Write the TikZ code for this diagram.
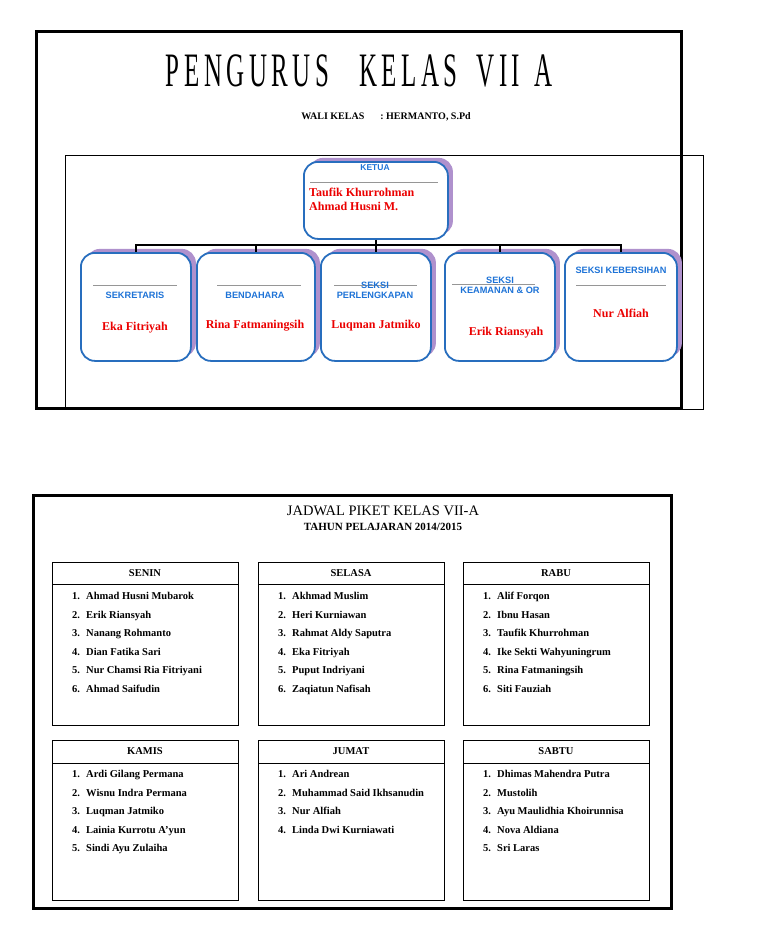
\documentclass[tikz,border=0pt]{standalone}
\usepackage{fontspec}
\setmainfont{Liberation Serif}
\newfontfamily\labfont{Liberation Sans}
\newfontfamily\titlefont[LetterSpace=18]{Liberation Serif}
\usetikzlibrary{shadows}
\definecolor{bborder}{RGB}{40,110,190}
\definecolor{blab}{RGB}{30,115,215}
\definecolor{shad}{RGB}{175,145,205}
\definecolor{rname}{RGB}{235,0,0}
\definecolor{sepgray}{RGB}{150,150,150}
\begin{document}
\begin{tikzpicture}[x=1pt,y=-1pt,
  frame/.style={draw=black, line width=3pt},
  thinframe/.style={draw=black, line width=0.7pt},
  orgbox/.style={draw=bborder, line width=1.8pt, rounded corners=14pt, fill=white,
    drop shadow={shadow xshift=5pt, shadow yshift=4pt, fill=shad, opacity=1},
    anchor=north west, inner sep=0pt},
  lab/.style={text=blab, font=\labfont\bfseries\fontsize{9.2}{10}\selectfont, inner sep=0pt, align=center},
  rn/.style={text=rname, font=\bfseries\fontsize{12}{13}\selectfont, inner sep=0pt},
  sep/.style={draw=sepgray, line width=0.8pt},
  conn/.style={draw=black, line width=1.2pt},
  daybox/.style={draw=black, line width=1.2pt, anchor=north west, inner sep=0pt, minimum width=186pt},
  dayhead/.style={font=\bfseries\fontsize{10.5}{11}\selectfont, inner sep=0pt},
  item/.style={font=\bfseries\fontsize{10.5}{11}\selectfont, inner sep=0pt, anchor=base west}
]
\useasboundingbox (0,0) rectangle (768,932);

% ---------------- top section ----------------
\node[thinframe, anchor=north west, minimum width=638pt, minimum height=254pt, inner sep=0pt] (orgarea) at (65,155) {};
\node[frame, anchor=north west, minimum width=645pt, minimum height=377pt, inner sep=0pt] (topframe) at (35,30) {};

\node[inner sep=0pt] (title) at (359,71) {\scalebox{0.52}[1]{\titlefont\fontsize{48}{48}\selectfont PENGURUS\hspace{37pt} KELAS\hspace{16pt} VII\hspace{6pt} A}};
\node[inner sep=0pt, font=\bfseries\fontsize{10}{11}\selectfont] (wali) at (386,117) {WALI KELAS\hspace{16pt}: HERMANTO, S.Pd};

% ketua
\node[orgbox, minimum width=144pt, minimum height=77pt] (ketua) at (303,161) {};
\node[lab, font=\labfont\bfseries\fontsize{8.5}{9}\selectfont] (ketualab) at (375,168) {KETUA};
\draw[sep] (310,182) -- (438,182);
\node[rn, anchor=west] (ketua1) at (309,192) {Taufik Khurrohman};
\node[rn, anchor=west] (ketua2) at (309,206) {Ahmad Husni M.};

% lower boxes
\node[orgbox, minimum width=110pt, minimum height=108pt] (b1) at (80,252) {};
\node[orgbox, minimum width=118pt, minimum height=108pt] (b2) at (196,252) {};
\node[orgbox, minimum width=110pt, minimum height=108pt] (b3) at (320,252) {};
\node[orgbox, minimum width=110pt, minimum height=108pt] (b4) at (444,252) {};
\node[orgbox, minimum width=112pt, minimum height=108pt] (b5) at (564,252) {};

% connectors
\coordinate (bus) at (375,245);
\draw[conn] (ketua.south) -- (b3.north);
\draw[conn] (b1.north) -- (b1.north |- bus) -- (b5.north |- bus) -- (b5.north);
\draw[conn] (b2.north |- bus) -- (b2.north);
\draw[conn] (b4.north |- bus) -- (b4.north);

% box contents
\draw[sep] (93,285) -- (177,285);
\node[lab] (l1) at (135,295) {SEKRETARIS};
\node[rn] (n1) at (135,328) {Eka Fitriyah};

\draw[sep] (217,285) -- (301,285);
\node[lab] (l2) at (255,295) {BENDAHARA};
\node[rn] (n2) at (255,326) {Rina Fatmaningsih};

\draw[sep] (334,285) -- (417,285);
\node[lab] (l3) at (375,290) {SEKSI\\PERLENGKAPAN};
\node[rn] (n3) at (376,326) {Luqman Jatmiko};

\draw[sep] (452,284) -- (535,284);
\node[lab] (l4) at (500,285) {SEKSI\\KEAMANAN \& OR};
\node[rn] (n4) at (506,333) {Erik Riansyah};

\node[lab] (l5) at (621,270) {SEKSI KEBERSIHAN};
\draw[sep] (576,285) -- (666,285);
\node[rn] (n5) at (621,313) {Nur Alfiah};

% ---------------- bottom section ----------------
\node[frame, anchor=north west, minimum width=638pt, minimum height=413pt, inner sep=0pt] (botframe) at (32,494) {};
\node[inner sep=0pt, font=\fontsize{14.5}{15}\selectfont] (jtitle) at (383,511) {JADWAL PIKET KELAS VII-A};
\node[inner sep=0pt, font=\bfseries\fontsize{11}{12}\selectfont] (jsub) at (383,527) {TAHUN PELAJARAN 2014/2015};

% day boxes row 1
\node[daybox, minimum height=163pt] (senin) at (52,562) {};
\node[daybox, minimum height=163pt] (selasa) at (258,562) {};
\node[daybox, minimum height=163pt] (rabu) at (463,562) {};
\draw[line width=1pt] (52,584) -- (238,584);
\draw[line width=1pt] (258,584) -- (444,584);
\draw[line width=1pt] (463,584) -- (649,584);
\node[dayhead] (hsenin) at (145,573) {SENIN};
\node[dayhead] (hselasa) at (351,573) {SELASA};
\node[dayhead] (hrabu) at (556,573) {RABU};

% day boxes row 2
\node[daybox, minimum height=160pt] (kamis) at (52,740) {};
\node[daybox, minimum height=160pt] (jumat) at (258,740) {};
\node[daybox, minimum height=160pt] (sabtu) at (463,740) {};
\draw[line width=1pt] (52,763) -- (238,763);
\draw[line width=1pt] (258,763) -- (444,763);
\draw[line width=1pt] (463,763) -- (649,763);
\node[dayhead] (hkamis) at (145,751) {KAMIS};
\node[dayhead] (hjumat) at (351,751) {JUMAT};
\node[dayhead] (hsabtu) at (556,751) {SABTU};

\newcommand{\dayitems}[4]{%
  \foreach \nm [count=\i] in {#4} {
    \node[item] (#1-\i) at (#2, #3+18.5*\i-18.5+3.6) {\makebox[14pt][l]{\i.}\nm};
  }}
\dayitems{senin}{72}{596}{Ahmad Husni Mubarok,Erik Riansyah,Nanang Rohmanto,Dian Fatika Sari,Nur Chamsi Ria Fitriyani,Ahmad Saifudin}
\dayitems{selasa}{278}{596}{Akhmad Muslim,Heri Kurniawan,Rahmat Aldy Saputra,Eka Fitriyah,Puput Indriyani,Zaqiatun Nafisah}
\dayitems{rabu}{483}{596}{Alif Forqon,Ibnu Hasan,Taufik Khurrohman,Ike Sekti Wahyuningrum,Rina Fatmaningsih,Siti Fauziah}
\dayitems{kamis}{72}{774}{Ardi Gilang Permana,Wisnu Indra Permana,Luqman Jatmiko,Lainia Kurrotu A'yun,Sindi Ayu Zulaiha}
\dayitems{jumat}{278}{774}{Ari Andrean,Muhammad Said Ikhsanudin,Nur Alfiah,Linda Dwi Kurniawati}
\dayitems{sabtu}{483}{774}{Dhimas Mahendra Putra,Mustolih,Ayu Maulidhia Khoirunnisa,Nova Aldiana,Sri Laras}
\end{tikzpicture}
\end{document}
